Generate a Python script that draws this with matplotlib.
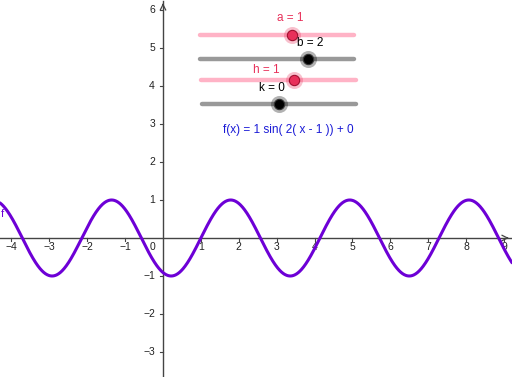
import numpy as np
import matplotlib
matplotlib.use("Agg")
import matplotlib.pyplot as plt

# Parameters of f(x) = a sin(b(x - h)) + k
param_names = ["a", "b", "h", "k"]
param_values = [1, 2, 1, 0]
slider_min, slider_max = -5, 5

x_ticks = [-4, -3, -2, -1, 1, 2, 3, 4, 5, 6, 7, 8, 9]
y_ticks = [-3, -2, -1, 1, 2, 3, 4, 5, 6]

a, b, h, k = param_values

W, H = 512, 377
fig = plt.figure(figsize=(W / 100, H / 100), dpi=100)
ax = fig.add_axes([0, 0, 1, 1])
ax.set_facecolor("white")
# pixel mapping: x=0 at px 163, 37.9 px/unit; y=0 at py 238, 38 px/unit
x0px, sx = 163.0, 37.9
y0px, sy = 238.0, 38.0
xmin, xmax = (0 - x0px) / sx, (W - x0px) / sx
ymax, ymin = y0px / sy, (y0px - H) / sy
ax.set_xlim(xmin, xmax)
ax.set_ylim(ymin, ymax)
ax.axis("off")

axis_col = "#444444"
ax.plot([xmin, xmax - 0.02], [0, 0], color=axis_col, lw=1.0, zorder=1)
ax.plot([0, 0], [ymin, ymax - 0.02], color=axis_col, lw=1.0, zorder=1)
ax.annotate("", xy=(xmax - 0.01, 0), xytext=(xmax - 0.2, 0),
            arrowprops=dict(arrowstyle="->", color=axis_col, lw=0.9))
ax.annotate("", xy=(0, ymax - 0.01), xytext=(0, ymax - 0.2),
            arrowprops=dict(arrowstyle="->", color=axis_col, lw=0.9))

tick_len = 3 / sy
for xt in x_ticks:
    ax.plot([xt, xt], [0, -tick_len], color=axis_col, lw=0.8)
    lab = "\u2212" + str(-xt) if xt < 0 else str(xt)
    ax.text(xt, -9 / sy, lab, ha="center", va="center", fontsize=7.5,
            color="#222222", family="Liberation Sans")
tick_lenx = 3 / sx
for yt in y_ticks:
    ax.plot([0, -tick_lenx], [yt, yt], color=axis_col, lw=0.8)
    lab = "\u2212" + str(-yt) if yt < 0 else str(yt)
    ax.text(-8 / sx, yt, lab, ha="right", va="center", fontsize=7.5,
            color="#222222", family="Liberation Sans")
ax.text(-8 / sx, -9 / sy, "0", ha="right", va="center", fontsize=7.5,
        color="#222222", family="Liberation Sans")

xs = np.linspace(xmin, xmax, 1500)
ys = a * np.sin(b * (xs - h)) + k
ax.plot(xs, ys, color="#6d00d6", lw=2.2, zorder=3, solid_capstyle="round")
ax.text(xmin + 0.02, 0.62, "f", color="#6d00d6", fontsize=8, ha="left",
        va="center", family="Liberation Sans")

# Slider overlay in pixel coords
ov = fig.add_axes([0, 0, 1, 1])
ov.set_xlim(0, W)
ov.set_ylim(H, 0)
ov.axis("off")
ov.patch.set_alpha(0)

sliders = [
    # x_start, x_end, y, label pos
    dict(x0=200, x1=354, y=35, lab=(290, 18), line="#ffb3c6", pt="#e8305a", txt="#e8305a"),
    dict(x0=200, x1=354, y=59, lab=(310, 43), line="#999999", pt="#000000", txt="#000000"),
    dict(x0=201, x1=356, y=80, lab=(266, 70), line="#ffb3c6", pt="#e8305a", txt="#e8305a"),
    dict(x0=202, x1=356, y=104, lab=(272, 88), line="#999999", pt="#000000", txt="#000000"),
]
for name, val, s in zip(param_names, param_values, sliders):
    ov.plot([s["x0"], s["x1"]], [s["y"], s["y"]], color=s["line"], lw=3.2,
            solid_capstyle="round", zorder=2)
    frac = (val - slider_min) / (slider_max - slider_min)
    px = s["x0"] + frac * (s["x1"] - s["x0"])
    ov.scatter([px], [s["y"]], s=150, color=s["pt"], alpha=0.3, zorder=3, lw=0)
    ov.scatter([px], [s["y"]], s=55, color=s["pt"], edgecolor="#333333"
               if s["pt"] == "#000000" else "#a01030", lw=0.8, zorder=4)
    ov.text(s["lab"][0], s["lab"][1], f"{name} = {val}", color=s["txt"],
            fontsize=8.5, ha="center", va="center", family="Liberation Sans", zorder=5)

ov.text(288, 130, f"f(x) = {a} sin( {b}( x - {h} )) + {k}", color="#1a1ad6",
        fontsize=8.5, ha="center", va="center", family="Liberation Sans")

fig.savefig("out.png", dpi=100, facecolor="white")
